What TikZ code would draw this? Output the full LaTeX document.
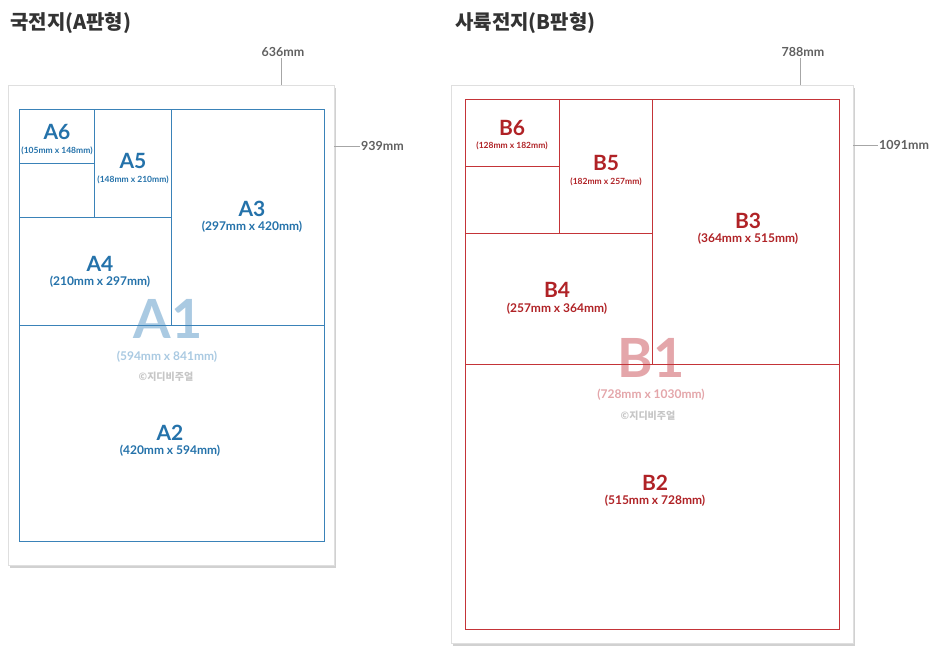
\documentclass[tikz,border=0pt]{standalone}
\usepackage{fontspec}
\setmainfont{Lato}
\newfontfamily\krfont{Noto Sans CJK KR}
\usepackage{tikz}
\usetikzlibrary{shapes, positioning, calc, shadows}
\definecolor{aline}{RGB}{58, 130, 184}
\definecolor{atext}{RGB}{36, 114, 170}
\definecolor{alight}{RGB}{170, 202, 226}
\definecolor{bline}{RGB}{196, 52, 56}
\definecolor{btext}{RGB}{176, 34, 38}
\definecolor{blight}{RGB}{228, 166, 170}
\definecolor{dimgray}{RGB}{96, 96, 96}
\definecolor{titlegray}{RGB}{51, 51, 51}

\tikzset{
  sheet/.style={draw=gray!25, fill=white, drop shadow={shadow xshift=2pt, shadow yshift=-3pt, opacity=0.3, fill=black!60}},
  sheettitle/.style={anchor=west, text=titlegray, font=\krfont\fontsize{20}{22}\selectfont\bfseries, inner sep=0pt},
  dimlabel/.style={text=dimgray, font=\fontsize{12.5}{14}\selectfont\bfseries, inner sep=1pt},
  sizename/.style={font=\fontsize{21}{22}\selectfont\bfseries, inner sep=0pt},
  bigname/.style={font=\fontsize{54}{54}\selectfont\bfseries, inner sep=0pt},
  sizedims/.style={font=\fontsize{12}{13}\selectfont\bfseries, inner sep=0pt},
  tinydims/.style={font=\fontsize{8.5}{9}\selectfont\bfseries, inner sep=0pt},
  wmark/.style={text=gray!45, font=\krfont\fontsize{10}{11}\selectfont\bfseries, inner sep=0pt}
}

\begin{document}
\begin{tikzpicture}[x=1pt, y=-1pt]
  \useasboundingbox (0,0) rectangle (940,670);

  % titles
  \node[sheettitle] (atitle) at (10,23) {국전지(A판형)};
  \node[sheettitle] (btitle) at (455,23) {사륙전지(B판형)};

  % ---- A series
  \draw[sheet] (8,85) rectangle (334,565);
  \coordinate (atop) at (281,85);
  \coordinate (aside) at (334,146);
  \node[dimlabel] (awidth) at (283,52) {636mm};
  \node[dimlabel, anchor=west] (aheight) at (360,146) {939mm};
  \draw[gray!70] (atop) -- (awidth.south -| atop);
  \draw[gray!70] (aside) -- (aheight.west);

  \node[bigname, text=alight] (a1) at (168,319) {A1};
  \node[sizedims, text=alight] (a1d) at (167,357) {(594mm x 841mm)};
  \node[wmark] (amark) at (166,377) {©지디비주얼};

  \draw[aline] (19,109) rectangle (324,541);
  \draw[aline] (19,325) -- (324,325)
               (171,109) -- (171,325)
               (19,217) -- (171,217)
               (94,109) -- (94,217)
               (19,163) -- (94,163);

  \node[sizename, text=atext] (a6) at (57,132) {A6};
  \node[tinydims, text=atext] (a6d) at (57,151) {(105mm x 148mm)};
  \node[sizename, text=atext] (a5) at (133,161) {A5};
  \node[tinydims, text=atext] (a5d) at (133,180) {(148mm x 210mm)};
  \node[sizename, text=atext] (a3) at (252,209) {A3};
  \node[sizedims, text=atext] (a3d) at (252,227) {(297mm x 420mm)};
  \node[sizename, text=atext] (a4) at (100,264) {A4};
  \node[sizedims, text=atext] (a4d) at (100,282) {(210mm x 297mm)};
  \node[sizename, text=atext] (a2) at (170,433) {A2};
  \node[sizedims, text=atext] (a2d) at (170,451) {(420mm x 594mm)};

  % ---- B series
  \draw[sheet] (451,85) rectangle (853,643);
  \coordinate (btop) at (800,85);
  \coordinate (bside) at (853,145);
  \node[dimlabel] (bwidth) at (803,52) {788mm};
  \node[dimlabel, anchor=west] (bheight) at (878,145) {1091mm};
  \draw[gray!70] (btop) -- (bwidth.south -| btop);
  \draw[gray!70] (bside) -- (bheight.west);

  \node[bigname, text=blight] (b1) at (651,358) {B1};
  \node[sizedims, text=blight] (b1d) at (651,395) {(728mm x 1030mm)};
  \node[wmark] (bmark) at (648,416) {©지디비주얼};

  \draw[bline] (465,99) rectangle (839,629);
  \draw[bline] (465,364) -- (839,364)
               (652,99) -- (652,364)
               (465,233) -- (652,233)
               (559,99) -- (559,233)
               (465,166) -- (559,166);

  \node[sizename, text=btext] (b6) at (512,128) {B6};
  \node[tinydims, text=btext] (b6d) at (512,146) {(128mm x 182mm)};
  \node[sizename, text=btext] (b5) at (606,163) {B5};
  \node[tinydims, text=btext] (b5d) at (606,182) {(182mm x 257mm)};
  \node[sizename, text=btext] (b3) at (748,221) {B3};
  \node[sizedims, text=btext] (b3d) at (748,239) {(364mm x 515mm)};
  \node[sizename, text=btext] (b4) at (557,290) {B4};
  \node[sizedims, text=btext] (b4d) at (557,309) {(257mm x 364mm)};
  \node[sizename, text=btext] (b2) at (655,483) {B2};
  \node[sizedims, text=btext] (b2d) at (655,501) {(515mm x 728mm)};
\end{tikzpicture}
\end{document}
